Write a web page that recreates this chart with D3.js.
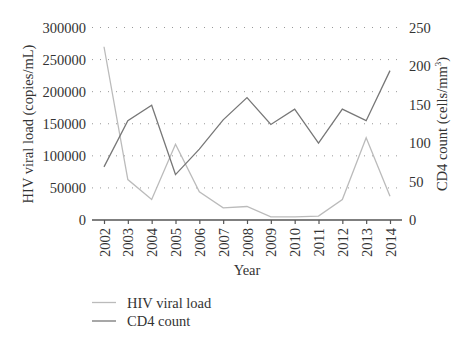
<!DOCTYPE html>
<html><head><meta charset="utf-8">
<script src="https://cdn.jsdelivr.net/npm/d3@7"></script>
<style>
body{margin:0;background:#fff;}
text{font-family:"Liberation Serif","DejaVu Serif",serif;fill:#333;}
</style></head>
<body><svg id="c" width="474" height="348"></svg>
<script>
const years = [2002,2003,2004,2005,2006,2007,2008,2009,2010,2011,2012,2013,2014];
const hivLoad = [270000,63000,32000,118000,44000,19000,21000,5000,5000,6000,32000,128000,37000];
const cd4Count = [69,129,149,59,92,130,159,124,144,100,144,129,194];
const leftTicks = [0,50000,100000,150000,200000,250000,300000];
const rightTicks = [0,50,100,150,200,250];

const svg = d3.select("#c");
const x = d3.scalePoint().domain(years).range([104,390]);
const yL = d3.scaleLinear().domain([0,300000]).range([220,27.5]);
const yR = d3.scaleLinear().domain([0,250]).range([220,27.5]);

// gridlines
svg.append("g").selectAll("line").data(leftTicks.slice(1)).join("line")
  .attr("x1",92).attr("x2",398).attr("y1",d=>yL(d)).attr("y2",d=>yL(d))
  .attr("stroke","#999").attr("stroke-width",1).attr("stroke-dasharray","1,7");

// left axis labels
const gl = svg.append("g").attr("transform","translate(92,0)")
  .call(d3.axisLeft(yL).tickValues(leftTicks).tickSize(0).tickPadding(6).tickFormat(d3.format("d")));
gl.select(".domain").remove();
gl.selectAll("text").attr("font-size",14.5).attr("font-family","Liberation Serif").attr("fill","#333");

// right axis labels
const gr = svg.append("g").attr("transform","translate(402,0)")
  .call(d3.axisRight(yR).tickValues(rightTicks).tickSize(0).tickPadding(7));
gr.select(".domain").remove();
gr.selectAll("text").attr("font-size",14.5).attr("font-family","Liberation Serif").attr("fill","#333");

// x axis
svg.append("line").attr("x1",92).attr("x2",402).attr("y1",220).attr("y2",220)
  .attr("stroke","#555").attr("stroke-width",1.3);
const gx = svg.append("g").attr("transform","translate(0,220)")
  .call(d3.axisBottom(x).tickSize(4).tickPadding(4));
gx.select(".domain").remove();
gx.selectAll("line").attr("stroke","#555").attr("stroke-width",1.2);
gx.selectAll("text").attr("font-size",14.5).attr("font-family","Liberation Serif").attr("fill","#333")
  .attr("transform","rotate(-90)").attr("text-anchor","end").attr("dy","0.35em").attr("x",-8).attr("y",0);

// lines
const lineL = d3.line().x((d,i)=>x(years[i])).y(d=>yL(d));
const lineR = d3.line().x((d,i)=>x(years[i])).y(d=>yR(d));
svg.append("path").datum(hivLoad).attr("d",lineL).attr("fill","none").attr("stroke","#bbb").attr("stroke-width",1.3);
svg.append("path").datum(cd4Count).attr("d",lineR).attr("fill","none").attr("stroke","#777").attr("stroke-width",1.3);

// axis titles
svg.append("text").attr("transform","translate(33,124) rotate(-90)").attr("text-anchor","middle")
  .attr("font-size",14.5).text("HIV viral load (copies/mL)");
const rt = svg.append("text").attr("transform","translate(447,124) rotate(-90)").attr("text-anchor","middle")
  .attr("font-size",14.5);
rt.append("tspan").text("CD4 count (cells/mm");
rt.append("tspan").attr("font-size",9).attr("dy",-6).text("3");
rt.append("tspan").attr("dy",6).text(")");
svg.append("text").attr("x",247).attr("y",275).attr("text-anchor","middle").attr("font-size",14.5).text("Year");

// legend
const leg = [{n:"HIV viral load",c:"#bbb"},{n:"CD4 count",c:"#777"}];
const lg = svg.append("g").selectAll("g").data(leg).join("g")
  .attr("transform",(d,i)=>`translate(92,${302.5+i*18.5})`);
lg.append("line").attr("x1",0).attr("x2",24).attr("stroke",d=>d.c).attr("stroke-width",1.3);
lg.append("text").attr("x",35).attr("dy","0.35em").attr("font-size",14.5).text(d=>d.n);
</script></body></html>
